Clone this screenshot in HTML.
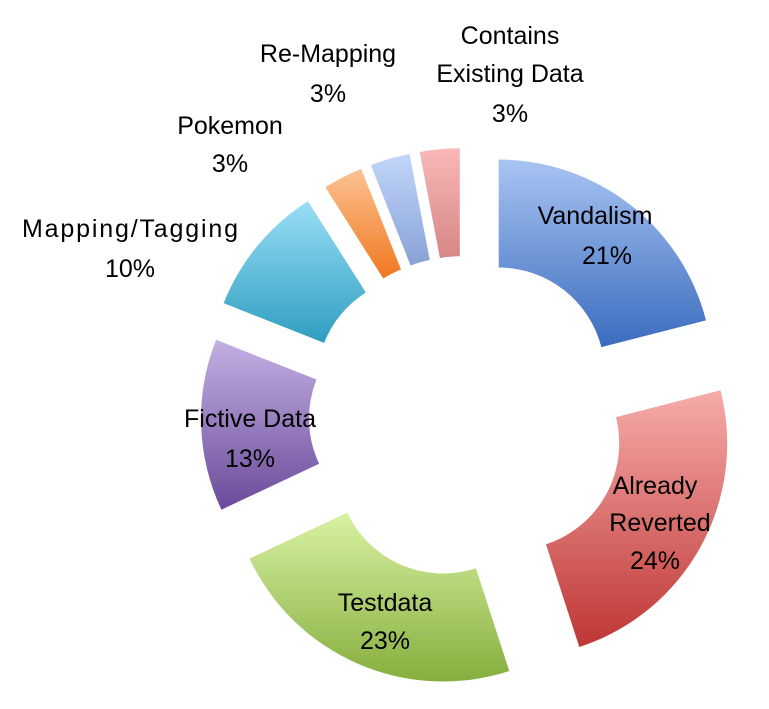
<!DOCTYPE html>
<html><head><meta charset="utf-8"><style>
html,body{margin:0;padding:0;background:#fff;}
svg text{font-family:"Liberation Sans",sans-serif;font-size:25px;fill:#000;text-anchor:middle;}
</style></head><body>
<svg id="s" width="769" height="704" xmlns="http://www.w3.org/2000/svg">
<defs id="d"></defs>
<g id="g"></g>
<text x="595" y="224">Vandalism</text><text x="607" y="264">21%</text>
<text x="655" y="494">Already</text><text x="660" y="531">Reverted</text><text x="655" y="569">24%</text>
<text x="385" y="611">Testdata</text><text x="385" y="649">23%</text>
<text x="250" y="427">Fictive Data</text><text x="250" y="467">13%</text>
<text x="130" y="237" textLength="216">Mapping/Tagging</text><text x="130" y="277">10%</text>
<text x="230" y="134">Pokemon</text><text x="230" y="172">3%</text>
<text x="328" y="62">Re-Mapping</text><text x="328" y="102">3%</text>
<text x="510" y="44">Contains</text><text x="510" y="82">Existing Data</text><text x="510" y="122">3%</text>
</svg>
<script>
var data=[[21,'#a8c4f2','#3a6cbe',55],[24,'#f6acaa','#be3634',55],[23,'#d8f2a2','#86ae3e',55],[13,'#c4b0e2','#6a4a9a',50],[10,'#9adef6','#2e9ec0',55],[3,'#fcc292','#f07820',55],[3,'#c2d6fa','#88a2d6',55],[3,'#fab8b8','#d68686',55]];
var cx=465,cy=417,R=214,r=106,a=0,g=document.getElementById('g'),defs=document.getElementById('d'),h='';
var dh='';
function P(rad,ang,ox,oy){return [(cx+ox+rad*Math.sin(ang)).toFixed(2),(cy+oy-rad*Math.cos(ang)).toFixed(2)].join(',');}
data.forEach(function(s,i){
 var d=s[3];
 var a0=a*Math.PI/50,a1=(a+s[0])*Math.PI/50,m=(a0+a1)/2;a+=s[0];
 var ox=d*Math.sin(m),oy=-d*Math.cos(m),lg=(a1-a0)>Math.PI?1:0;
 dh+='<linearGradient id="l'+i+'" x1="0" y1="0" x2="0" y2="1"><stop offset="0" stop-color="'+s[1]+'"/><stop offset="1" stop-color="'+s[2]+'"/></linearGradient>';
 h+='<path fill="url(#l'+i+')" d="M'+P(R,a0,ox,oy)+' A'+R+','+R+' 0 '+lg+' 1 '+P(R,a1,ox,oy)+' L'+P(r,a1,ox,oy)+' A'+r+','+r+' 0 '+lg+' 0 '+P(r,a0,ox,oy)+' Z"/>';
});
defs.innerHTML=dh;g.innerHTML=h;
</script>
</body></html>
